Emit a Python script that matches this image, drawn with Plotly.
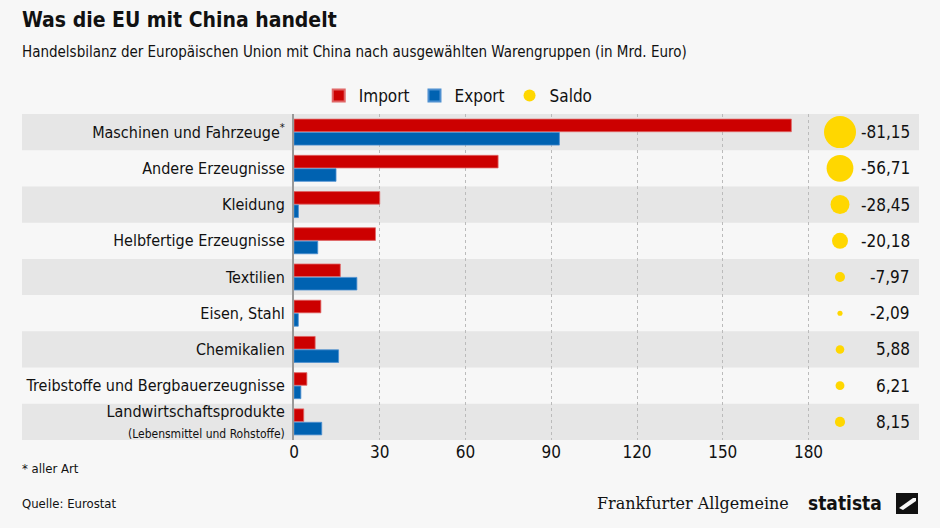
import plotly.graph_objects as go

categories = [
    "Maschinen und Fahrzeuge<sup>*</sup>",
    "Andere Erzeugnisse",
    "Kleidung",
    "Helbfertige Erzeugnisse",
    "Textilien",
    "Eisen, Stahl",
    "Chemikalien",
    "Treibstoffe und Bergbauerzeugnisse",
    "Landwirtschaftsprodukte<br><span style='font-size:12px'>(Lebensmittel und Rohstoffe)</span>",
]
imports = [174.0, 71.4, 30.0, 28.5, 16.2, 9.4, 7.4, 4.5, 3.4]
exports = [92.85, 14.7, 1.55, 8.3, 22.0, 1.5, 15.6, 2.4, 9.7]
saldo = [-81.15, -56.71, -28.45, -20.18, -7.97, -2.09, 5.88, 6.21, 8.15]
x_ticks = [0, 30, 60, 90, 120, 150, 180]

FONT = "Liberation Sans Narrow, DejaVu Sans Condensed, Roboto, sans-serif"
RED = "#cc0000"
BLUE = "#0062b1"
YELLOW = "#ffd700"
BG = "#f7f7f7"
BAND = "#e6e6e6"

W, H = 940, 528
L, R, T, B = 294, 919, 114, 440
PX_PER_UNIT = (808.5 - 294) / 180.0
XMAX = (R - L) / PX_PER_UNIT
BUBBLE_X = (840 - L) / PX_PER_UNIT
TEXT_X = (912 - L) / PX_PER_UNIT


def px(xp):
    return (xp - L) / (R - L)


def py(yp):
    return (B - yp) / (B - T)


fig = go.Figure()
fig.add_trace(go.Bar(
    y=categories, x=imports, orientation="h", name="Import",
    marker=dict(color=RED, line=dict(color="#e06666", width=0.8)),
))
fig.add_trace(go.Bar(
    y=categories, x=exports, orientation="h", name="Export",
    marker=dict(color=BLUE, line=dict(color="#4d8fd0", width=0.8)),
))
max_d = 32
fig.add_trace(go.Scatter(
    y=categories, x=[BUBBLE_X] * len(categories), mode="markers", name="Saldo",
    marker=dict(color=YELLOW, opacity=1, size=[abs(v) for v in saldo], sizemode="area",
                sizeref=2 * max(abs(v) for v in saldo) / max_d ** 2, line=dict(width=0)),
))

shapes = []
for i in range(len(categories)):
    if i % 2 == 0:
        shapes.append(dict(type="rect", xref="paper", yref="y",
                           x0=px(22), x1=1, y0=i - 0.5, y1=i + 0.5,
                           fillcolor=BAND, line=dict(width=0), layer="below"))

# statista logo icon
shapes.append(dict(type="rect", xref="paper", yref="paper",
                   x0=px(896), x1=px(918), y0=py(514), y1=py(493),
                   fillcolor="#111111", line=dict(width=0), layer="above"))
shapes.append(dict(type="path", xref="paper", yref="paper",
                   path=f"M {px(899)} {py(508)} L {px(913)} {py(498)} L {px(916)} {py(498)} L {px(916)} {py(501)} L {px(903)} {py(510)} Z",
                   fillcolor="#f7f7f7", line=dict(width=0), layer="above"))

annotations = []
for c, v in zip(categories, saldo):
    annotations.append(dict(x=TEXT_X, y=c, xref="x", yref="y", text=f"{v:.2f}".replace(".", ","),
                            showarrow=False, xanchor="right", yanchor="middle",
                            font=dict(family=FONT, size=17, color="#111111")))

annotations += [
    dict(x=px(20), y=py(20), xref="paper", yref="paper", text="<b>Was die EU mit China handelt</b>",
         showarrow=False, xanchor="left", yanchor="middle", font=dict(family=FONT, size=21, color="#111111")),
    dict(x=px(20), y=py(52), xref="paper", yref="paper",
         text="Handelsbilanz der Europäischen Union mit China nach ausgewählten Warengruppen (in Mrd. Euro)",
         showarrow=False, xanchor="left", yanchor="middle", font=dict(family=FONT, size=15, color="#111111")),
    dict(x=px(20), y=py(468), xref="paper", yref="paper", text="* aller Art",
         showarrow=False, xanchor="left", yanchor="middle", font=dict(family=FONT, size=13, color="#111111")),
    dict(x=px(20), y=py(503), xref="paper", yref="paper", text="Quelle: Eurostat",
         showarrow=False, xanchor="left", yanchor="middle", font=dict(family=FONT, size=13, color="#111111")),
    dict(x=px(791), y=py(503), xref="paper", yref="paper", text="Frankfurter Allgemeine",
         showarrow=False, xanchor="right", yanchor="middle",
         font=dict(family="DejaVu Serif, serif", size=16, color="#111111")),
    dict(x=px(806), y=py(503), xref="paper", yref="paper", text="<b>statista</b>",
         showarrow=False, xanchor="left", yanchor="middle",
         font=dict(family=FONT, size=19, color="#111111")),
]

fig.update_layout(
    width=W, height=H,
    margin=dict(l=L, r=W - R, t=T, b=H - B, pad=0, autoexpand=False),
    paper_bgcolor=BG, plot_bgcolor="rgba(0,0,0,0)",
    barmode="group", bargap=0.26, bargroupgap=0.06,
    font=dict(family=FONT, size=16, color="#111111"),
    showlegend=True,
    legend=dict(orientation="h", x=330 / W - 0.012, y=1 - 96 / H, xref="container", yref="container",
                xanchor="left", yanchor="middle",
                font=dict(family=FONT, size=17, color="#111111"), bgcolor="rgba(0,0,0,0)",
                itemsizing="constant", traceorder="normal"),
    shapes=shapes, annotations=annotations,
    xaxis=dict(range=[0, XMAX], tickvals=x_ticks, ticktext=[str(t) for t in x_ticks],
               showgrid=True, gridcolor="#bbbbbb", griddash="dot", gridwidth=1,
               zeroline=False, showline=False, ticks="", fixedrange=True, automargin=False,
               tickfont=dict(family=FONT, size=17, color="#111111")),
    yaxis=dict(range=[len(categories) - 0.5, -0.5], autorange=False, showgrid=False, zeroline=False,
               showline=True, linecolor="#999999", linewidth=2, ticks="",
               ticklabelstandoff=4, fixedrange=True, automargin=False,
               tickfont=dict(family=FONT, size=16, color="#111111")),
)

fig.write_html("out.html")
